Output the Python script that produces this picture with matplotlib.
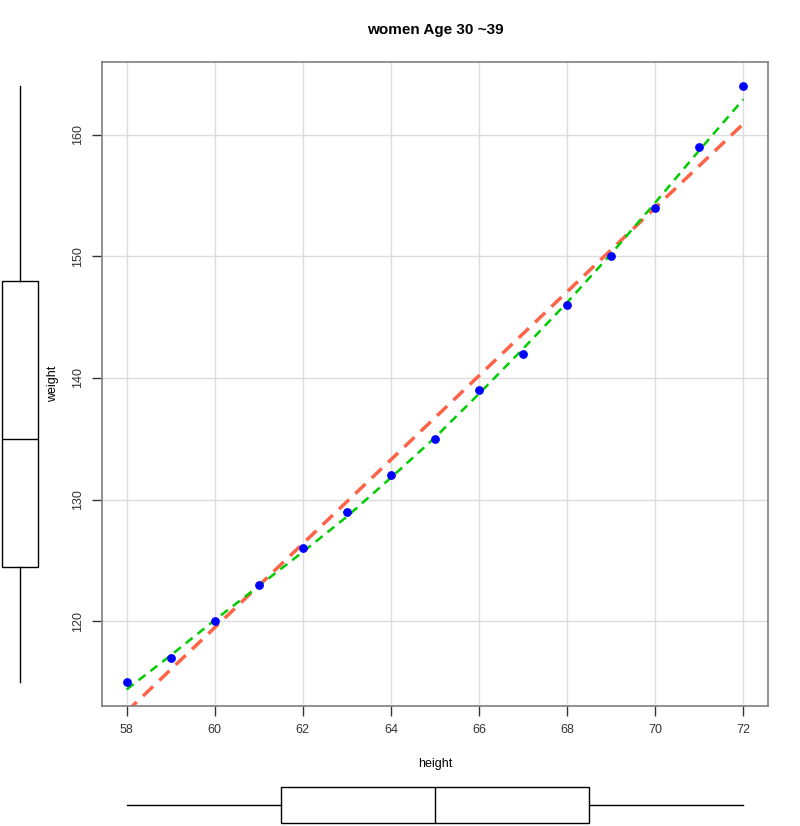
import matplotlib.pyplot as plt
import numpy as np

plt.rcParams['font.family'] = ['Liberation Sans', 'DejaVu Sans']

# women data set
height = [58, 59, 60, 61, 62, 63, 64, 65, 66, 67, 68, 69, 70, 71, 72]
weight = [115, 117, 120, 123, 126, 129, 132, 135, 139, 142, 146, 150, 154, 159, 164]
# smoother values
smooth = [114.4, 117.2, 120.1, 122.9, 125.7, 128.6, 131.8, 135.1, 138.7, 142.4,
          146.2, 150.2, 154.4, 158.7, 162.9]

x = np.array(height)
y = np.array(weight)
slope, intercept = np.polyfit(x, y, 1)

fig = plt.figure(figsize=(8, 8.26), dpi=100)
W, H = 800, 826
main = fig.add_axes([102 / W, 1 - 706 / H, 666 / W, 644 / H])
left = fig.add_axes([0, 1 - 706 / H, 40 / W, 644 / H])
bottom = fig.add_axes([102 / W, 0, 666 / W, 42 / H])

xlim = (57.44, 72.56)
ylim = (113.04, 165.96)

main.grid(True, color='#dcdcdc', linewidth=1)
main.set_axisbelow(True)
main.plot(x, intercept + slope * x, color='#ff6347', linestyle=(0, (4, 2.5)), linewidth=2.5)
main.plot(x, smooth, color='#00cd00', linestyle=(0, (3.5, 2.5)), linewidth=1.8)
main.scatter(x, y, s=28, color='#0000ff', zorder=3)
main.set_xlim(xlim)
main.set_ylim(ylim)
main.set_xticks([58, 60, 62, 64, 66, 68, 70, 72])
main.set_yticks([120, 130, 140, 150, 160])
for lbl in main.get_yticklabels():
    lbl.set_rotation(90)
    lbl.set_va('center')
main.tick_params(direction='out', length=7, width=1, colors='#333333', labelsize=9, pad=6)
for s in main.spines.values():
    s.set_color('#7f7f7f')
    s.set_linewidth(1.2)
main.set_title('women Age 30 ~39', fontsize=11, fontweight='bold', pad=20)
main.set_xlabel('height', fontsize=9, labelpad=16)
main.set_ylabel('weight', fontsize=9, labelpad=9)

box_style = dict(whis=(0, 100), widths=36, patch_artist=True, showcaps=False, showfliers=False,
                 boxprops=dict(facecolor='white', edgecolor='black', linewidth=1),
                 medianprops=dict(color='black', linewidth=1),
                 whiskerprops=dict(color='black', linewidth=1))

left.boxplot(y, positions=[20], vert=True, **box_style)
left.set_xlim(0, 40)
left.set_ylim(ylim)
left.axis('off')

bottom.boxplot(x, positions=[21], vert=False, **box_style)
bottom.set_ylim(0, 42)
bottom.set_xlim(xlim)
bottom.axis('off')

fig.savefig('out.png', dpi=100)
